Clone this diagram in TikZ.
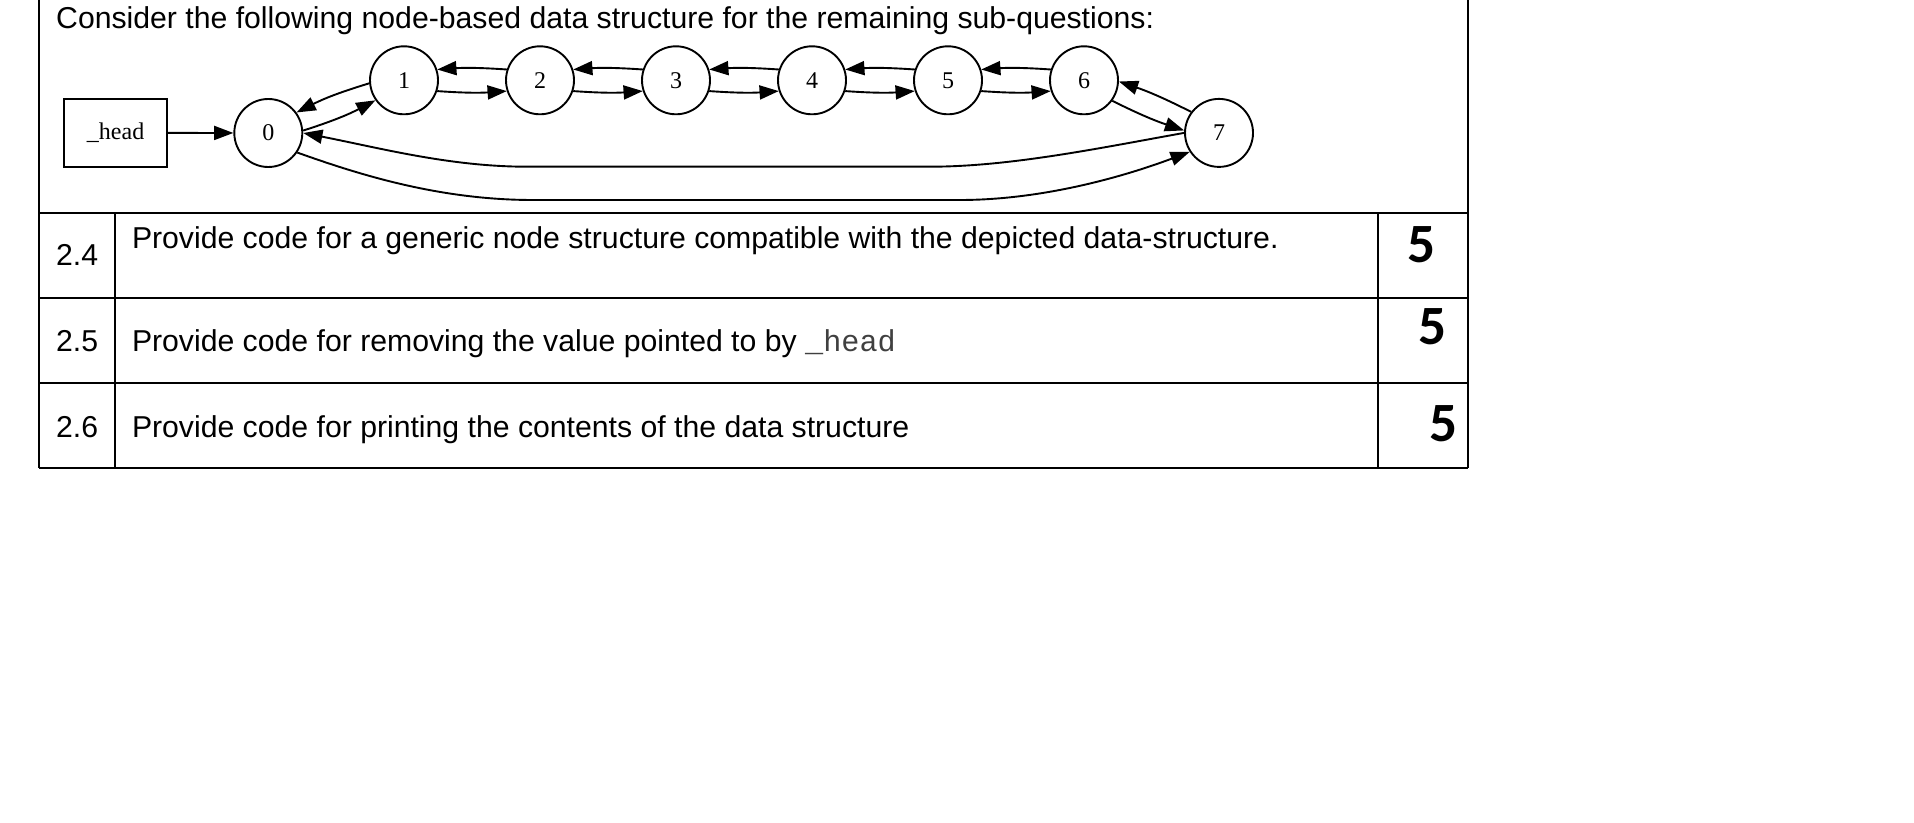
\documentclass[tikz,border=0pt]{standalone}
\usepackage{fontspec}
\setmainfont{Liberation Sans}
\setmonofont{Liberation Mono}
\newfontfamily\graphfont{Liberation Serif}
\newfontfamily\notefont{Carlito}
\usetikzlibrary{arrows.meta}

\begin{document}
\begin{tikzpicture}[x=0.5pt,y=0.5pt,
        rond/.style={draw,circle,line width=0.95pt,minimum size=34pt,inner sep=0pt,font=\graphfont\fontsize{12}{14}\selectfont},
        boite/.style={draw,rectangle,line width=0.95pt,minimum width=51.3pt,minimum height=33.8pt,inner sep=0pt,font=\graphfont\fontsize{12}{14}\selectfont},
        fl/.style={line width=0.95pt,-{Triangle[length=9.6pt,width=7pt]}},
        texte/.style={anchor=base west,inner sep=0pt,font=\fontsize{15.1}{18}\selectfont},
        note/.style={anchor=base west,inner sep=0pt,font=\notefont\bfseries\fontsize{27.7}{32}\selectfont},
        trait/.style={line width=0.9pt}]
            \useasboundingbox (0,0) rectangle (1914,-823);
            % le tableau
            \draw[trait] (39.3,0) -- (39.3,-468.3);
            \draw[trait] (1468.3,0) -- (1468.3,-468.3);
            \foreach \y in {212.7,298.3,383.3,468.3}{
                \draw[trait] (39.3,-\y) -- (1468.3,-\y);
            }
            \foreach \x in {115.3,1377.7}{
                \draw[trait] (\x,-212.7) -- (\x,-468.3);
            }
            \node[texte] (titre) at (55.8,-28.3) {Consider the following node-based data structure for the remaining sub-questions:};
            \node[texte] (num-4) at (55.8,-265.7) {2.4};
            \node[texte] (num-5) at (55.8,-351.5) {2.5};
            \node[texte] (num-6) at (55.8,-437.3) {2.6};
            \node[texte] (q-4) at (131.6,-249) {Provide code for a generic node structure compatible with the depicted data-structure.};
            \node[texte] (q-5) at (131.6,-351) {Provide code for removing the value pointed to by \texttt{\color{black!75}\_head}};
            \node[texte] (q-6) at (131.6,-437) {Provide code for printing the contents of the data structure};
            \node[note] (pt-4) at (1407,-262.3) {5};
            \node[note] (pt-5) at (1418,-344) {5};
            \node[note] (pt-6) at (1429.5,-441.7) {5};
            % le graphe
            \newcommand\rang{6}
            \node[boite] (tete) at (115.6,-132.9) {\_head};
            \node[rond] (N-0) at (268.3,-133) {0};
            \foreach \x in {1,...,\rang}{
                \pgfmathsetmacro\posx{404+(\x-1)*136}
                \node[rond] (N-\x) at (\posx,-80.3) {\x};
            }
            \node[rond] (N-7) at (1219,-132.9) {7};
            \draw[fl] (tete) -- (N-0);
            \path (N-0.4) edge[fl,bend right=5] (N-1.215);
            \path (N-1.185) edge[fl,bend right=5] (N-0.36);
            \foreach \x [count=\xi from 2] in {1,...,5}{
                \path (N-\x.-18) edge[fl,bend right=4] (N-\xi.198);
                \path (N-\xi.162) edge[fl,bend right=4] (N-\x.18);
            }
            \path (N-6.-36) edge[fl,bend right=4] (N-7.176);
            \path (N-7.143) edge[fl,bend right=4] (N-6.-2);
            \draw[fl] (N-7.180) .. controls (1100,-148) and (1010,-166.7) .. (930,-166.7) -- (527,-166.7) .. controls (450,-166.7) and (380,-148) .. (N-0.0);
            \draw[fl] (N-0.-34) .. controls (360,-175) and (440,-200) .. (533,-200) -- (960,-200) .. controls (1040,-200) and (1120,-178) .. (N-7.213);
        \end{tikzpicture}
\end{document}
